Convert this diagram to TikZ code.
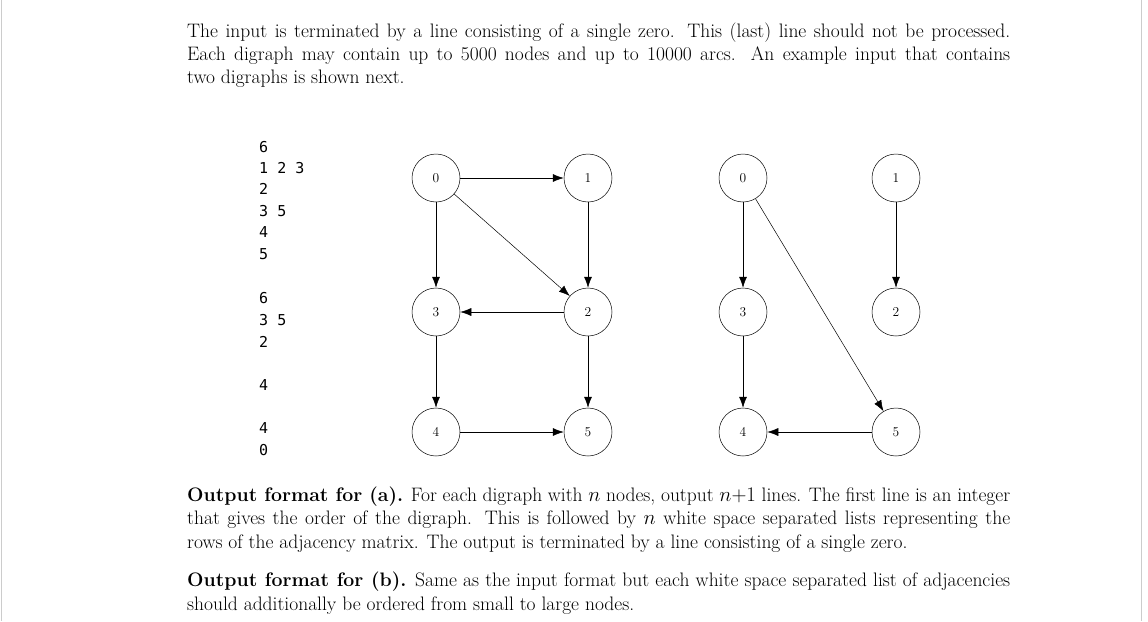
\documentclass[tikz,border=0pt]{standalone}
\usepackage{fontspec}
\newfontfamily\codefont{DejaVu Sans Mono}
\usetikzlibrary{arrows.meta}
\begin{document}
\begin{tikzpicture}[x=1pt,y=-1pt,
  vtx/.style={draw,circle,minimum size=48pt,inner sep=0pt,font=\fontsize{13.5}{15}\selectfont,line width=0.5pt},
  arc/.style={-{Latex[length=11pt,width=8pt]},line width=0.5pt},
  txt/.style={anchor=base west,inner sep=0pt,font=\fontsize{19.5}{23}\selectfont},
  code/.style={anchor=base west,inner sep=0pt,font=\codefont\fontsize{15}{16}\selectfont}]
\useasboundingbox (0,0) rectangle (1148,621);
\draw[gray!40] (1,0) -- (1,621) (1141,0) -- (1141,621);
% top paragraph
\node[txt] (t1) at (187,37) {\makebox[823pt][s]{The input is terminated by a line consisting of a single zero. This (last) line should not be processed.}};
\node[txt] (t2) at (187,60) {\makebox[823pt][s]{Each digraph may contain up to 5000 nodes and up to 10000 arcs. An example input that contains}};
\node[txt] (t3) at (187,83) {two digraphs is shown next.};
% code
\foreach \y/\s [count=\i] in {152/6,173/1 2 3,194/2,216/3 5,237/4,259/5,303/6,325/3 5,347/2,390/4,433/4,455/0}
  \node[code] (c\i) at (259,\y) {\s};
% graph 1
\node[vtx] (a0) at (436,178) {0};
\node[vtx] (a1) at (588,178) {1};
\node[vtx] (a3) at (436,312) {3};
\node[vtx] (a2) at (588,312) {2};
\node[vtx] (a4) at (436,432) {4};
\node[vtx] (a5) at (588,432) {5};
\draw[arc] (a0) -- (a1);
\draw[arc] (a0) -- (a3);
\draw[arc] (a0) -- (a2);
\draw[arc] (a1) -- (a2);
\draw[arc] (a2) -- (a3);
\draw[arc] (a2) -- (a5);
\draw[arc] (a3) -- (a4);
\draw[arc] (a4) -- (a5);
% graph 2
\node[vtx] (b0) at (743,178) {0};
\node[vtx] (b1) at (896,178) {1};
\node[vtx] (b3) at (743,312) {3};
\node[vtx] (b2) at (896,312) {2};
\node[vtx] (b4) at (743,432) {4};
\node[vtx] (b5) at (896,432) {5};
\draw[arc] (b0) -- (b3);
\draw[arc] (b0) -- (b5);
\draw[arc] (b1) -- (b2);
\draw[arc] (b3) -- (b4);
\draw[arc] (b5) -- (b4);
% bottom paragraphs
\node[txt] (u1) at (187,501) {\makebox[823pt][s]{\textbf{Output format for (a).} For each digraph with $n$ nodes, output $n{+}1$ lines. The first line is an integer}};
\node[txt] (u2) at (187,524) {\makebox[823pt][s]{that gives the order of the digraph. This is followed by $n$ white space separated lists representing the}};
\node[txt] (u3) at (187,548) {rows of the adjacency matrix. The output is terminated by a line consisting of a single zero.};
\node[txt] (v1) at (187,586) {\makebox[823pt][s]{\textbf{Output format for (b).} Same as the input format but each white space separated list of adjacencies}};
\node[txt] (v2) at (187,610) {should additionally be ordered from small to large nodes.};
\end{tikzpicture}
\end{document}
